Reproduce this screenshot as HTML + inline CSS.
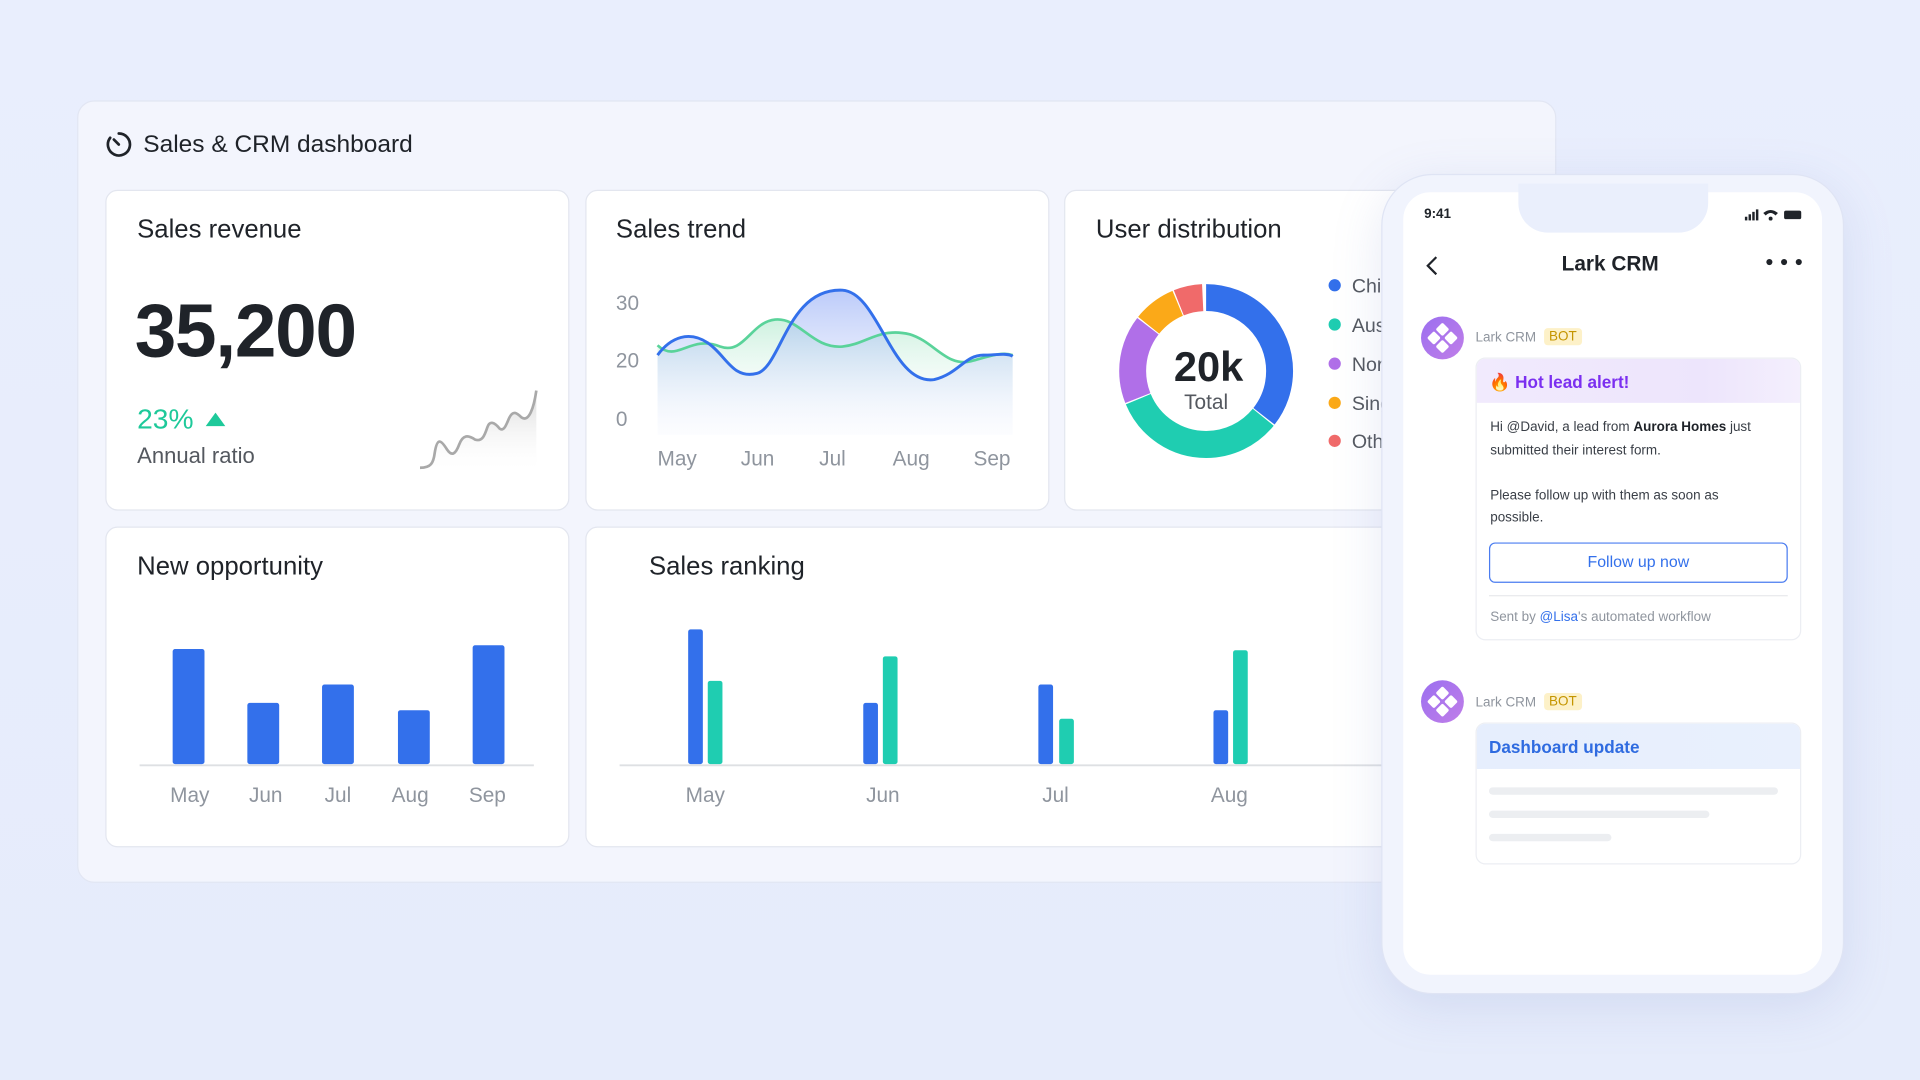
<!DOCTYPE html>
<html><head><meta charset="utf-8"><style>
*{margin:0;padding:0;box-sizing:border-box}
html,body{width:1920px;height:1080px;overflow:hidden;background:#e8eefd}
#root{position:absolute;left:0;top:0;width:1568px;height:882px;transform:scale(1.22449);transform-origin:0 0;font-family:"Liberation Sans",sans-serif;color:#1f2329;background:linear-gradient(180deg,#e9eefd,#e6ecfb)}
.abs{position:absolute}
.panel{left:63px;top:82px;width:1208px;height:639px;background:#f3f5fd;border:1px solid #e2e6f3;border-radius:14px}
.card{position:absolute;background:#fff;border:1px solid #e3e6ef;border-radius:10px}
.t{position:absolute;font-size:21px;color:#1f2329}
.ax{font-size:17px;fill:#8f959e;font-family:"Liberation Sans",sans-serif}
.phone{left:1128px;top:142px;width:378px;height:670px;border-radius:42px;background:#f1f4fd;border:1px solid #dfe4f4;box-shadow:0 10px 40px rgba(120,140,200,.18)}
.screen{left:1146px;top:157px;width:342px;height:639px;border-radius:22px;background:#fff}
.sm{font-size:11px;color:#3a3f47;line-height:18.5px}
</style></head><body><div id="root">
<div class="abs panel"></div>
<svg class="abs" style="left:85px;top:106px" width="24" height="24" viewBox="0 0 24 24"><path d="M12 3 A9 9 0 1 1 5 6.5" fill="none" stroke="#1f2329" stroke-width="2.2" stroke-linecap="round"/><line x1="12" y1="12" x2="8" y2="8" stroke="#1f2329" stroke-width="2.2" stroke-linecap="round"/></svg>
<div class="abs" style="left:117px;top:107px;font-size:20px;color:#1f2329">Sales &amp; CRM dashboard</div>

<div class="card" style="left:86px;top:155px;width:379px;height:262px"></div>
<div class="t" style="left:112px;top:176px">Sales revenue</div>
<div class="abs" style="left:110px;top:235px;font-size:61px;font-weight:bold;color:#1f2329;letter-spacing:-1px">35,200</div>
<div class="abs" style="left:112px;top:329px;font-size:23px;color:#1ec99a">23%</div>
<div class="abs" style="left:168px;top:337px;width:0;height:0;border-left:8px solid transparent;border-right:8px solid transparent;border-bottom:11px solid #1ec99a"></div>
<div class="abs" style="left:112px;top:362px;font-size:18px;color:#54585f">Annual ratio</div>
<svg class="abs" style="left:340px;top:315px" width="105" height="72"><defs><linearGradient id="sg" x1="0" y1="0" x2="0" y2="1"><stop offset="0" stop-color="#d8d8d8"/><stop offset="1" stop-color="#fff" stop-opacity="0"/></linearGradient></defs>
<path d="M3 67 C12 67 14 63 15 55 C17 42 20 44 25 52 C29 58 32 56 35 48 C38 40 42 40 48 44 C54 46 56 40 58 34 C60 28 64 30 68 35 C72 38 74 30 76 26 C79 20 82 22 86 26 C92 30 96 18 98 4 L98 72 L3 72Z" fill="url(#sg)"/>
<path d="M3 67 C12 67 14 63 15 55 C17 42 20 44 25 52 C29 58 32 56 35 48 C38 40 42 40 48 44 C54 46 56 40 58 34 C60 28 64 30 68 35 C72 38 74 30 76 26 C79 20 82 22 86 26 C92 30 96 18 98 4" fill="none" stroke="#a9a9a9" stroke-width="2.2"/></svg>

<div class="card" style="left:478px;top:155px;width:379px;height:262px"></div>
<div class="t" style="left:503px;top:176px">Sales trend</div>
<svg class="abs" style="left:478px;top:155px" width="379" height="262">
<defs><linearGradient id="bg1" x1="0" y1="0" x2="0" y2="1"><stop offset="0" stop-color="#8fa8f5" stop-opacity=".6"/><stop offset="1" stop-color="#eef2fd" stop-opacity=".2"/></linearGradient>
<linearGradient id="gg1" x1="0" y1="0" x2="0" y2="1"><stop offset="0" stop-color="#9de3c0" stop-opacity=".5"/><stop offset="1" stop-color="#fff" stop-opacity="0"/></linearGradient></defs>
<text class="ax" x="25" y="98">30</text><text class="ax" x="25" y="145">20</text><text class="ax" x="25" y="193">0</text>
<path d="M59 127 C75 142 85 118 110 128 C130 135 135 108 155 106 C175 104 185 130 210 128 C230 126 240 112 265 118 C285 124 295 145 315 140 C330 136 340 132 349 135 L349 200 L59 200Z" fill="url(#gg1)"/>
<path d="M59 135 C70 120 85 115 100 125 C115 135 120 155 140 150 C160 145 165 80 210 82 C240 84 250 160 285 155 C305 150 310 135 325 135 C335 135 345 133 349 136 L349 200 L59 200Z" fill="url(#bg1)"/>
<path d="M59 127 C75 142 85 118 110 128 C130 135 135 108 155 106 C175 104 185 130 210 128 C230 126 240 112 265 118 C285 124 295 145 315 140 C330 136 340 132 349 135" fill="none" stroke="#5ad39a" stroke-width="2.2"/>
<path d="M59 135 C70 120 85 115 100 125 C115 135 120 155 140 150 C160 145 165 80 210 82 C240 84 250 160 285 155 C305 150 310 135 325 135 C335 135 345 133 349 136" fill="none" stroke="#3370eb" stroke-width="2.4"/>
<text class="ax" x="59" y="225">May</text><text class="ax" x="127" y="225">Jun</text><text class="ax" x="191" y="225">Jul</text><text class="ax" x="251" y="225">Aug</text><text class="ax" x="317" y="225">Sep</text>
</svg>

<div class="card" style="left:869px;top:155px;width:300px;height:262px"></div>
<div class="t" style="left:895px;top:176px">User distribution</div>
<svg class="abs" style="left:905px;top:223px" width="160" height="160" viewBox="0 0 160 160">
<g transform="rotate(-90 80 80)" fill="none" stroke-width="22">
<circle cx="80" cy="80" r="60" stroke="#3370eb" stroke-dasharray="134 243" stroke-dashoffset="0"/>
<circle cx="80" cy="80" r="60" stroke="#1fcdb1" stroke-dasharray="124 253" stroke-dashoffset="-135"/>
<circle cx="80" cy="80" r="60" stroke="#b06fe8" stroke-dasharray="62 315" stroke-dashoffset="-260"/>
<circle cx="80" cy="80" r="60" stroke="#fba918" stroke-dasharray="30 347" stroke-dashoffset="-323"/>
<circle cx="80" cy="80" r="60" stroke="#f06a6a" stroke-dasharray="20 357" stroke-dashoffset="-354"/>
</g>
<text x="82" y="88" text-anchor="middle" font-size="34" font-weight="bold" fill="#1f2329" font-family="Liberation Sans">20k</text>
<text x="80" y="111" text-anchor="middle" font-size="17" fill="#54585f" font-family="Liberation Sans">Total</text>
</svg>
<svg class="abs" style="left:1080px;top:220px" width="80" height="160">
<circle cx="10" cy="13" r="5" fill="#3370eb"/><circle cx="10" cy="45" r="5" fill="#1fcdb1"/><circle cx="10" cy="77" r="5" fill="#b06fe8"/><circle cx="10" cy="109" r="5" fill="#fba918"/><circle cx="10" cy="140" r="5" fill="#f06a6a"/>
<g class="ax" style="font-size:16px;fill:#54585f"><text x="24" y="19">China</text><text x="24" y="51">Australia</text><text x="24" y="83">North</text><text x="24" y="115">Singapore</text><text x="24" y="146">Others</text></g>
</svg>

<div class="card" style="left:86px;top:430px;width:379px;height:262px"></div>
<div class="t" style="left:112px;top:451px">New opportunity</div>
<svg class="abs" style="left:86px;top:430px" width="379" height="262">
<line x1="28" y1="195" x2="350" y2="195" stroke="#dee0e3" stroke-width="1.5"/>
<g fill="#3370eb"><rect x="55" y="100" width="26" height="94" rx="2"/><rect x="116" y="144" width="26" height="50" rx="2"/><rect x="177" y="129" width="26" height="65" rx="2"/><rect x="239" y="150" width="26" height="44" rx="2"/><rect x="300" y="97" width="26" height="97" rx="2"/></g>
<g class="ax" text-anchor="middle"><text x="69" y="225">May</text><text x="131" y="225">Jun</text><text x="190" y="225">Jul</text><text x="249" y="225">Aug</text><text x="312" y="225">Sep</text></g>
</svg>

<div class="card" style="left:478px;top:430px;width:700px;height:262px"></div>
<div class="t" style="left:530px;top:451px">Sales ranking</div>
<svg class="abs" style="left:478px;top:430px" width="700" height="262">
<line x1="28" y1="195" x2="690" y2="195" stroke="#dee0e3" stroke-width="1.5"/>
<g fill="#3370eb"><rect x="84" y="84" width="12" height="110" rx="2"/><rect x="227" y="144" width="12" height="50" rx="2"/><rect x="370" y="129" width="12" height="65" rx="2"/><rect x="513" y="150" width="12" height="44" rx="2"/></g>
<g fill="#1fcdb1"><rect x="100" y="126" width="12" height="68" rx="2"/><rect x="243" y="106" width="12" height="88" rx="2"/><rect x="387" y="157" width="12" height="37" rx="2"/><rect x="529" y="101" width="12" height="93" rx="2"/></g>
<g class="ax" text-anchor="middle"><text x="98" y="225">May</text><text x="243" y="225">Jun</text><text x="384" y="225">Jul</text><text x="526" y="225">Aug</text></g>
</svg>

<div class="abs phone"></div>
<div class="abs screen"></div>
<div class="abs" style="left:1240px;top:150px;width:155px;height:40px;background:#eaeffc;border-radius:0 0 24px 24px"></div>
<div class="abs" style="left:1163px;top:169px;font-size:11px;font-weight:bold">9:41</div>
<svg class="abs" style="left:1424px;top:170px" width="50" height="12"><g fill="#1f2329"><rect x="1" y="7" width="2" height="3"/><rect x="4" y="5" width="2" height="5"/><rect x="7" y="3" width="2" height="7"/><rect x="10" y="1" width="2" height="9"/><path d="M16 4 Q22 -1 28 4 L26 6 Q22 2 18 6Z"/><circle cx="22" cy="8.5" r="1.6"/><rect x="33" y="2" width="14" height="7" rx="1.5"/></g></svg>
<svg class="abs" style="left:1162px;top:207px" width="14" height="20"><path d="M11 3 L4 10 L11 17" fill="none" stroke="#1f2329" stroke-width="1.8"/></svg>
<div class="abs" style="left:1250px;top:206px;width:130px;text-align:center;font-size:17px;font-weight:bold">Lark CRM</div>
<svg class="abs" style="left:1440px;top:209px" width="34" height="10"><g fill="#1f2329"><circle cx="5" cy="5" r="2.5"/><circle cx="17" cy="5" r="2.5"/><circle cx="29" cy="5" r="2.5"/></g></svg>

<svg class="abs" style="left:1160px;top:258px" width="36" height="36"><defs><linearGradient id="av" x1="0" y1="0" x2="1" y2="1"><stop offset="0" stop-color="#9b6ff0"/><stop offset="1" stop-color="#c07ee8"/></linearGradient></defs><circle cx="18" cy="18" r="17.5" fill="url(#av)"/><g fill="#fff"><rect x="14" y="7" width="8" height="8" rx="1.5" transform="rotate(45 18 11)"/><rect x="14" y="21" width="8" height="8" rx="1.5" transform="rotate(45 18 25)"/><rect x="7" y="14" width="8" height="8" rx="1.5" transform="rotate(45 11 18)"/><rect x="21" y="14" width="8" height="8" rx="1.5" transform="rotate(45 25 18)"/></g></svg>
<div class="abs" style="left:1205px;top:270px;font-size:11px;color:#8f959e">Lark CRM</div>
<div class="abs" style="left:1261px;top:268px;padding:1px 4px;font-size:11px;color:#c49500;background:#fdf1c8;border-radius:3px">BOT</div>
<div class="abs" style="left:1205px;top:292px;width:266px;height:231px;border:1px solid #eceef3;border-radius:8px;background:#fff;overflow:hidden">
<div style="height:36px;background:linear-gradient(90deg,#f1eafd,#ede5fc 70%,#f4effd);padding:11px 0 0 10px;font-size:14px;font-weight:bold;color:#7b2ff0">🔥 Hot lead alert!</div>
<div class="sm" style="position:absolute;left:11px;top:47px;width:245px">Hi @David, a lead from <b style="color:#1f2329">Aurora Homes</b> just submitted their interest form.<br><br>Please follow up with them as soon as<br>possible.</div>
<div style="position:absolute;left:10px;top:150px;width:244px;height:33px;border:1.5px solid #4a7cf0;border-radius:5px;text-align:center;line-height:30px;font-size:13px;color:#3370eb">Follow up now</div>
<div style="position:absolute;left:10px;top:193px;width:244px;height:1px;background:#e8e9ec"></div>
<div style="position:absolute;left:11px;top:205px;font-size:11px;color:#8f959e">Sent by <span style="color:#3370eb">@Lisa</span>'s automated workflow</div>
</div>

<svg class="abs" style="left:1160px;top:555px" width="36" height="36"><circle cx="18" cy="18" r="17.5" fill="url(#av)"/><g fill="#fff"><rect x="14" y="7" width="8" height="8" rx="1.5" transform="rotate(45 18 11)"/><rect x="14" y="21" width="8" height="8" rx="1.5" transform="rotate(45 18 25)"/><rect x="7" y="14" width="8" height="8" rx="1.5" transform="rotate(45 11 18)"/><rect x="21" y="14" width="8" height="8" rx="1.5" transform="rotate(45 25 18)"/></g></svg>
<div class="abs" style="left:1205px;top:568px;font-size:11px;color:#8f959e">Lark CRM</div>
<div class="abs" style="left:1261px;top:566px;padding:1px 4px;font-size:11px;color:#c49500;background:#fdf1c8;border-radius:3px">BOT</div>
<div class="abs" style="left:1205px;top:590px;width:266px;height:116px;border:1px solid #eceef3;border-radius:8px;background:#fff;overflow:hidden">
<div style="height:37px;background:linear-gradient(90deg,#e6eefd,#e9f0fd);padding:11px 0 0 10px;font-size:14px;font-weight:bold;color:#2f6be0">Dashboard update</div>
<div style="position:absolute;left:10px;top:52px;width:236px;height:6px;border-radius:3px;background:#eceef1"></div>
<div style="position:absolute;left:10px;top:71px;width:180px;height:6px;border-radius:3px;background:#eceef1"></div>
<div style="position:absolute;left:10px;top:90px;width:100px;height:6px;border-radius:3px;background:#eceef1"></div>
</div>
</div></body></html>
